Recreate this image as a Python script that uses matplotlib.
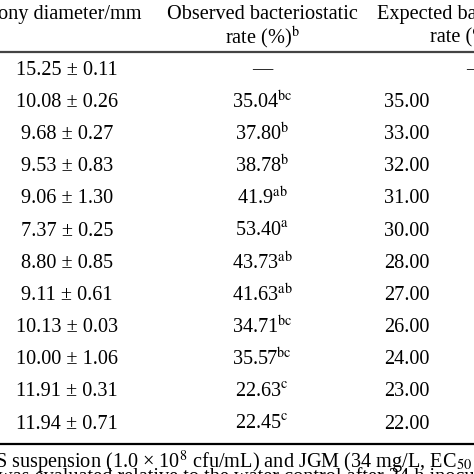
import matplotlib.pyplot as plt

plt.rcParams['font.family'] = ['Liberation Serif', 'DejaVu Serif']
plt.rcParams['mathtext.fontset'] = 'stix'

diameters = ["15.25 ± 0.11", "10.08 ± 0.26", "9.68 ± 0.27", "9.53 ± 0.83", "9.06 ± 1.30",
             "7.37 ± 0.25", "8.80 ± 0.85", "9.11 ± 0.61", "10.13 ± 0.03", "10.00 ± 1.06",
             "11.91 ± 0.31", "11.94 ± 0.71"]
observed = ["—", "35.04", "37.80", "38.78", "41.9", "53.40", "43.73", "41.63",
            "34.71", "35.57", "22.63", "22.45"]
letters = ["", "bc", "b", "b", "ab", "a", "ab", "ab", "bc", "bc", "c", "c"]
expected = ["—", "35.", "33.", "32.", "31.", "30.", "28.", "27.", "26.", "24.", "23.", "22."]

fig = plt.figure(figsize=(4.74, 4.74), dpi=100)
ax = fig.add_axes([0, 0, 1, 1])
ax.set_xlim(0, 474)
ax.set_ylim(474, 0)
ax.axis('off')

fs = 14.6
ax.text(-2, 14, "ony diameter/mm", fontsize=fs, va='center', ha='left')
ax.text(262, 14, "Observed bacteriostatic", fontsize=fs, va='center', ha='center')
ax.text(262, 38, r"rate (%)$^{\mathrm{b}}$", fontsize=fs, va='center', ha='center')
ax.text(377, 14, "Expected bacteriostatic", fontsize=fs, va='center', ha='left')
ax.text(430, 38, "rate (%)", fontsize=fs, va='center', ha='left')

ax.axhline(52, color='#444444', lw=1.6)
ax.axhline(444, color='black', lw=1.6)

y0, dy = 70, 32.2
for i in range(len(diameters)):
    y = y0 + i * dy
    ax.text(67, y, diameters[i], fontsize=fs, va='center', ha='center')
    lab = observed[i] if not letters[i] else observed[i] + r"$^{\mathrm{" + letters[i] + "}}$"
    ax.text(262, y, lab, fontsize=fs, va='center', ha='center')
    if expected[i] == "—":
        ax.text(466, y, "—", fontsize=fs, va='center', ha='left')
    else:
        ax.text(384, y, expected[i] + "00", fontsize=fs, va='center', ha='left')

ax.text(-5, 462, r"S suspension (1.0 × 10$^8$ cfu/mL) and JGM (34 mg/L, EC$_{50}$",
        fontsize=fs, va='center', ha='left')
ax.text(-2, 478, "was evaluated relative to the water control after 24 h inoculation",
        fontsize=fs, va='center', ha='left')

fig.savefig("out.png", dpi=100)
